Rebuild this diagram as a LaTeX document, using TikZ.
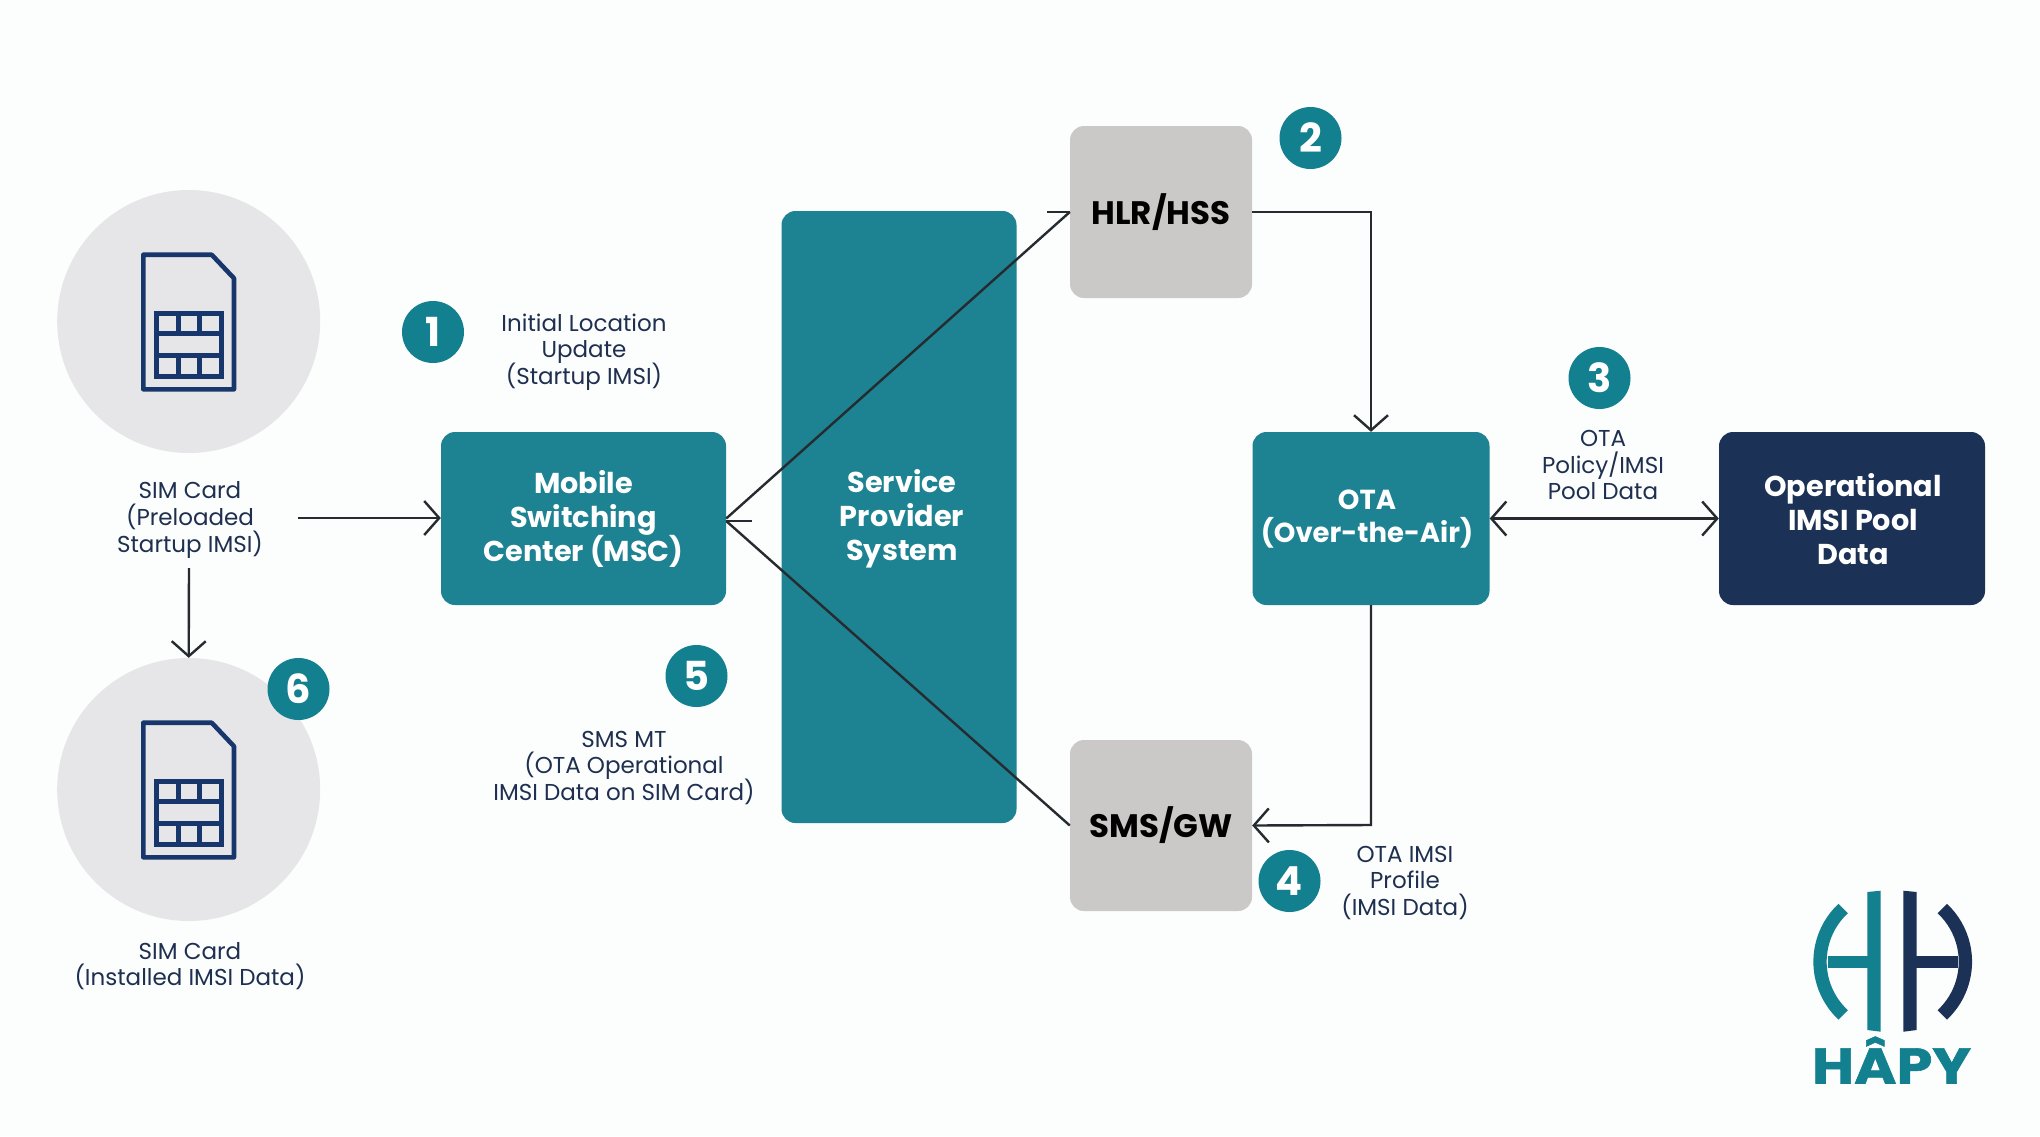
\documentclass[tikz,border=0pt]{standalone}
\usepackage{fontspec}
\setmainfont{Poppins}
\usetikzlibrary{arrows.meta}
\definecolor{pagebg}{HTML}{FCFDFD}
\definecolor{tealbox}{HTML}{1D8291}
\definecolor{tealdot}{HTML}{12808F}
\definecolor{greybox}{HTML}{CBC8C8}
\definecolor{greydisc}{HTML}{E6E6E8}
\definecolor{navybox}{HTML}{1B3155}
\definecolor{navytext}{HTML}{1E2F4F}
\definecolor{iconblue}{HTML}{17366B}
\definecolor{linedark}{HTML}{262B30}
\newcommand{\tightlines}{\lineskiplimit-30pt\relax}
\newcommand{\boxfont}{\fontsize{28.7}{33.8}\selectfont\bfseries\tightlines}
\newcommand{\lblfont}{\fontsize{23}{26.6}\selectfont\tightlines}
\tikzset{
  x=1pt,y=-1pt,
  box/.style={rectangle,rounded corners=14pt,inner sep=0pt,align=center},
  tealnode/.style={box,fill=tealbox},
  greynode/.style={box,fill=greybox,text=black,font=\fontsize{32.5}{36}\selectfont\bfseries},
  navynode/.style={box,fill=navybox},
  boxtext/.style={font=\boxfont,text=white,align=center,inner sep=0pt},
  disc/.style={circle,fill=greydisc,minimum size=263pt,inner sep=0pt},
  badge/.style={circle,fill=tealdot,text=white,minimum size=62pt,inner sep=0pt,font=\fontsize{40}{42}\selectfont\bfseries},
  lbl/.style={align=center,text=navytext,inner sep=0pt,font=\lblfont},
  conn/.style={draw=linedark,line width=2.4pt},
  tip/.style={-{Straight Barb[length=15pt,width=34pt,line width=2.4pt]}},
  tips/.style={{Straight Barb[length=15pt,width=34pt,line width=2.4pt]}-{Straight Barb[length=15pt,width=34pt,line width=2.4pt]}},
  logoteal/.style={draw=tealdot,line width=13.3pt},
  logonavy/.style={draw=navybox,line width=13.3pt},
}
\newcommand{\simicon}[1]{%
\begin{scope}[yshift=#1]
\draw[iconblue,line width=4.6pt,line join=round] (143.3,254.7) -- (211.7,254.7) -- (234,278.3) -- (234,389.3) -- (143.3,389.3) -- cycle;
\draw[iconblue,line width=5pt] (156.7,313.3) rectangle (221.7,376);
\draw[iconblue,line width=5pt] (156.7,333.3) -- (221.7,333.3) (156.7,355) -- (221.7,355)
  (178,313.3) -- (178,333.3) (199,313.3) -- (199,333.3) (178,355) -- (178,376) (199,355) -- (199,376);
\end{scope}}
\begin{document}
\begin{tikzpicture}
\useasboundingbox (0,0) rectangle (2040,1136);
\fill[pagebg] (0,0) rectangle (2040,1136);

% discs and icons
\node[disc] (disc1) at (188.7,321.5) {};
\node[disc] (disc2) at (188.7,789.5) {};
\simicon{0pt}
\simicon{-468pt}

% boxes
\node[tealnode,minimum width=285pt,minimum height=173pt] (msc) at (583.5,518.5) {};
\node[boxtext] (msctext) at (583.5,519) {Mobile\\Switching\\Center (MSC)};
\node[tealnode,minimum width=235pt,minimum height=612pt] (sps) at (899,517) {};
\node[boxtext] (spstext) at (902,519) {Service\\Provider\\System};
\node[greynode,minimum width=182pt,minimum height=172pt] (hlr) at (1161,212) {HLR/HSS};
\node[greynode,minimum width=182pt,minimum height=171pt] (smsgw) at (1161,825.5) {SMS/GW};
\node[tealnode,minimum width=237pt,minimum height=173pt] (ota) at (1371,518.5) {};
\node[boxtext,font=\fontsize{27.5}{33.8}\selectfont\bfseries\tightlines] (otatext) at (1367,519) {OTA\\(Over-the-Air)};
\node[navynode,minimum width=266pt,minimum height=173pt] (pool) at (1852,518.5) {};
\node[boxtext] (pooltext) at (1853,519) {Operational\\IMSI Pool\\Data};

% labels
\node[lbl] (l1) at (584,352) {Initial Location\\Update\\(Startup IMSI)};
\node[lbl] (simA) at (190,520) {SIM Card\\(Preloaded\\Startup IMSI)};
\node[lbl] (l5) at (624,768) {SMS MT\\(OTA Operational\\IMSI Data on SIM Card)};
\node[lbl] (l3) at (1603,465) {OTA\\Policy/IMSI\\Pool Data};
\node[lbl] (l4) at (1405,883) {OTA IMSI\\Profile\\(IMSI Data)};
\node[lbl] (simB) at (190,966) {SIM Card\\(Installed IMSI Data)};

% badges
\node[badge] (b1) at (433,332) {1};
\node[badge] (b2) at (1310.5,138) {2};
\node[badge] (b3) at (1599.5,378) {3};
\node[badge] (b4) at (1289.5,881) {4};
\node[badge] (b5) at (696.5,676) {5};
\node[badge] (b6) at (298.5,689) {6};

% connectors
\coordinate (simAe) at (298,518);
\coordinate (simAs) at (189,568);
\coordinate (stub) at (752,521);
\coordinate (stubB) at (1047,212);
\coordinate (otabend) at (1371,212);
\coordinate (otabendb) at (1371,825);
\draw[conn,tip] (simAe) -- (simAe -| msc.west);
\draw[conn,tip] (simAs) -- (disc2.north);
\draw[conn] (msc.east) -- (hlr.west);
\draw[conn] (msc.east) ++(0,2.5) -- (smsgw.west);
\draw[conn] (msc.east) ++(0,2.5) -- (stub);
\draw[conn] (stubB) -- (hlr.west);
\draw[conn,tip] (hlr.east) -- (otabend) -- (ota.north);
\draw[conn,tip] (ota.south) -- (otabendb) -- (smsgw.east);
\draw[conn,tips] (ota.east) -- (pool.west);

% logo
\coordinate (lc) at (1892.7,961.7);
\node[inner sep=0pt] (logotext) at (1891.5,1060) {\fontsize{50}{52}\selectfont\bfseries\addfontfeatures{FakeStretch=1.15,FakeBold=1.2}\textcolor{tealdot}{HÂPY}};
\fill[tealdot] (1867.3,892) -- (1880.7,890.7) -- (1880.7,1031.7) -- (1867.3,1030) -- cycle;
\fill[navybox] (1903.3,890.7) -- (1916.7,892) -- (1916.7,1030) -- (1903.3,1031.7) -- cycle;
\draw[logoteal] (lc) ++(133:72.7) arc[start angle=133,end angle=227,radius=72.7];
\draw[logonavy] (lc) ++(47:72.7) arc[start angle=47,end angle=-47,radius=72.7];
\fill[tealdot] (1828,955.7) rectangle (1868,968.3);
\fill[navybox] (1916,955.7) rectangle (1958,968.3);
\end{tikzpicture}
\end{document}
